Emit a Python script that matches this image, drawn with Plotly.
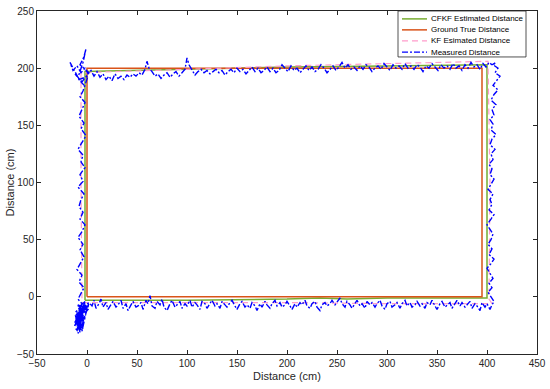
import plotly.graph_objects as go

# ---------------- data ----------------
legend_labels = ["CFKF Estimated Distance", "Ground True Distance",
                 "KF Esimated Distance", "Measured Distance"]

gt_x = [0, 395, 395, 0, 0]
gt_y = [0, 0, 200, 200, 0]

cfkf_x = [-2, 100, 200, 233, 260, 300, 400, 400, 400, 300, 200, 100, 0, -2, -2, -2]
cfkf_y = [-3, -3, -2, -1, -2, -1, -1, 100, 203, 202, 201, 199, 197, 197, 100, -3]

kf_x = [-5, 100, 200, 300, 405, 402, 403, 401, 300, 200, 100, 0, -6, -6, -5]
kf_y = [-5, -5, -5, -6, -6, -2, 100, 206, 204, 202, 199, 196, 196, 100, -5]

meas_x = [
    # start cluster
    -6, -9, -7, -10, -8, -5, -11, -7, -9, -4, -8, -10, -6, -3, -7, -12, -6, -9, -5, -8, -2,
    -11, -4, -9, 1, -13, -6, -1, -10, -3, -12, -7, 2, -9, -5, -11, -2, -8, 0, -10, -4, -7,
    # bottom edge
    2, 5, 7, 9, 12, 14, 16, 19, 21, 24, 26, 29, 31, 34, 36, 39, 41, 44, 46, 49, 51, 54, 56, 59,
    61, 63, 65, 68, 70, 73, 75, 77, 80, 83, 85, 88, 90, 93, 95, 98, 100, 103, 105, 108, 110,
    113, 115, 118, 120, 123, 125, 128, 130, 133, 135, 138, 140, 143, 145, 148, 150, 153, 155,
    158, 160, 163, 165, 168, 170, 173, 175, 178, 180, 183, 185, 188, 190, 193, 195, 198, 200,
    203, 205, 208, 210, 213, 215, 218, 220, 223, 225, 228, 230, 233, 235, 238, 240, 243, 245,
    248, 250, 253, 255, 258, 260, 263, 265, 268, 270, 273, 275, 278, 280, 283, 285, 288, 290,
    293, 295, 298, 300, 303, 305, 308, 310, 313, 315, 318, 320, 323, 325, 328, 330, 333, 335,
    338, 340, 343, 345, 348, 350, 353, 355, 358, 360, 363, 365, 368, 370, 373, 375, 378, 380,
    383, 385, 388, 390, 393, 395, 398, 400, 403, 405, 407,
    # right edge
    404, 401, 405, 402, 406, 403, 400, 404, 407, 402, 405, 401, 404, 406, 403, 400, 404, 407,
    402, 405, 403, 406, 401, 404, 407, 403, 405, 402, 406, 404, 408, 403, 405, 409, 404, 406,
    403, 407, 405, 409, 404, 407, 411, 406, 410, 413, 408, 411, 406, 409,
    # top edge
    405, 402, 399, 396, 393, 390, 387, 384, 381, 378, 375, 372, 369, 366, 363, 360, 357, 354,
    351, 348, 345, 342, 339, 336, 333, 330, 327, 324, 321, 318, 315, 312, 309, 306, 303, 300,
    297, 294, 291, 288, 285, 282, 279, 276, 273, 270, 267, 264, 261, 258, 255, 252, 249, 246,
    243, 240, 237, 234, 231, 228, 225, 222, 219, 216, 213, 210, 207, 204, 201, 198, 195, 192,
    189, 186, 183, 180, 177, 174, 171, 168, 165, 162, 159, 156, 153, 150, 147, 144, 141, 138,
    135, 132, 129, 126, 123, 120, 117, 114, 111, 108, 105, 102, 100, 98, 95, 92, 89, 86, 83,
    80, 77, 74, 71, 68, 65, 62, 60, 58, 55, 52, 49, 46, 43, 40, 37, 34, 31, 28, 25, 22, 19,
    16, 13, 10, 7, 4, 1,
    # top-left cluster and left edge
    -2, -6, -10, -14, -17, -9, -4, -1, -3, -7, 2, -5, -12, -3, -8, 1, -4, -7, -2, -5, -8, -3,
    -6, -1, -5, -9, -4, -6, -2, -7, -4, -9, -3, -6, -8, -4, -7, -2, -5, -9, -4, -7, -3, -6,
    -10, -5, -8, -3, -6, -9, -5,
    # end cluster
    -8, -11, -7, -9, -6, -10, -8, -5, -9, -12, -7, -6, -10, -3, -11, -5, 0, -9, -2, -12, -6,
    -1, -8, -4, -10, -7, -3, -9,
]
meas_y = [
    # start cluster
    -10, -18, -25, -30, -22, -15, -20, -28, -12, -8, -17, -25, -20, -6, -14, -22, -27, -32, -18, -9, -4,
    -13, -21, -7, -11, -26, -16, -9, -23, -19, -15, -31, -6, -24, -12, -29, -17, -20, -8, -16, -27, -11,
    # bottom edge
    -5, -8, -3, -10, -6, -2, -9, -5, -11, -6, -4, -9, -7, -3, -10, -6, -12, -7, -4, -9, -8, -5, -11, -3,
    -6, 1, -8, -10, -4, -7, -2, -9, -12, -6, -3, -9, -7, -4, -10, -6, -8, -3, -9, -5, -7,
    -11, -4, -6, -10, -5, -3, -8, -6, -10, -4, -7, -9, -5, -3, -8, -11, -6, -4,
    -9, -7, -10, -5, -8, -12, -6, -9, -4, -7, -10, -6, -3, -8, -5, -9, -7, -4,
    -8, -11, -6, -9, -5, -7, -3, -8, -10, -6, -4, -9, -12, -7, -5, -8, -6, -3,
    -7, -5, -1, -6, -9, -4, -7, -10, -5, -3, -8, -6, -10, -4, -7, -5, -9, -6,
    -3, -8, -11, -6, -4, -9, -7, -5, -10, -6, -3, -8, -5, -9, -7, -4, -8, -6,
    -10, -5, -7, -3, -8, -11, -6, -4, -9, -7, -5, -10, -6, -3, -8, -5, -9, -7,
    -4, -10, -6, -8, -12, -5, -9, -6, -11, -7, -4,
    # right edge
    0, 4, 8, 12, 16, 20, 25, 29, 33, 37, 42, 46, 50, 55, 59, 63, 68, 72,
    76, 81, 85, 90, 94, 98, 103, 107, 112, 116, 120, 125, 129, 133, 138, 142, 146, 151,
    155, 159, 164, 168, 172, 177, 181, 185, 189, 193, 196, 200, 203, 205,
    # top edge
    203, 205, 201, 204, 199, 203, 201, 205, 200, 203, 198, 202, 200, 204, 199, 202, 200, 203,
    198, 201, 204, 200, 202, 197, 201, 203, 199, 202, 200, 204, 199, 202, 200, 203, 198, 201,
    204, 199, 202, 200, 197, 201, 203, 199, 202, 198, 201, 199, 203, 200, 205, 201, 198, 202,
    199, 196, 200, 203, 199, 197, 201, 198, 202, 199, 196, 200, 198, 202, 197, 200, 203, 198,
    196, 200, 197, 201, 198, 196, 200, 197, 201, 198, 195, 199, 197, 200, 196, 199, 197, 194,
    198, 196, 199, 197, 195, 198, 196, 199, 197, 194, 198, 203, 209, 199, 196, 193, 197, 195, 192,
    196, 194, 191, 195, 193, 197, 200, 206, 199, 194, 196, 193, 195, 192, 194, 190, 193, 191, 195, 189, 193, 190,
    195, 192, 197, 193, 198, 195,
    # top-left cluster and left edge
    200, 196, 202, 198, 205, 192, 205, 217, 210, 203, 196, 188, 195, 185, 190, 193, 180, 175,
    170, 164, 158, 152, 147, 141, 135, 129, 124, 118, 113, 107, 101, 96, 90, 85, 79, 74, 68,
    63, 57, 52, 46, 41, 35, 30, 24, 19, 13, 8, 3, -2, -6,
    # end cluster
    -12, -19, -24, -29, -16, -21, -27, -11, -15, -24, -19, -26, -14, -8, -22, -30, -10, -18, -5,
    -25, -13, -7, -20, -28, -17, -9, -23, -15,
]

x_ticks = [-50, 0, 50, 100, 150, 200, 250, 300, 350, 400, 450]
y_ticks = [-50, 0, 50, 100, 150, 200, 250]
x_title = "Distance (cm)"
y_title = "Distance (cm)"

# ---------------- styles ----------------
C_CFKF = "#77AC30"
C_GT = "#D95319"
C_KF = "#FF9CCB"
C_MEAS = "#0000FF"
AX = "#262626"
FONT = "Liberation Sans, Arial, sans-serif"

fig = go.Figure()
fig.add_trace(go.Scatter(x=cfkf_x, y=cfkf_y, mode="lines", name=legend_labels[0],
                         line=dict(color=C_CFKF, width=1.5), showlegend=False))
fig.add_trace(go.Scatter(x=gt_x, y=gt_y, mode="lines", name=legend_labels[1],
                         line=dict(color=C_GT, width=1.5), showlegend=False))
fig.add_trace(go.Scatter(x=kf_x, y=kf_y, mode="lines", name=legend_labels[2],
                         line=dict(color=C_KF, width=1.2, dash="6px,4px"), showlegend=False))
fig.add_trace(go.Scatter(x=meas_x, y=meas_y, mode="lines", name=legend_labels[3],
                         line=dict(color=C_MEAS, width=1.4, dash="6px,2px,2px,2px"), showlegend=False))

# manual compact legend (MATLAB style)
shapes = [dict(type="rect", xref="paper", yref="paper", x0=0.722, x1=0.978, y0=0.866, y1=1.0,
               line=dict(color=AX, width=0.8), fillcolor="white", layer="above")]
leg_colors = [C_CFKF, C_GT, C_KF, C_MEAS]
leg_dash = ["solid", "solid", "6px,4px", "6px,2px,2px,2px"]
leg_w = [1.5, 1.5, 1.2, 1.2]
leg_y = [0.977, 0.945, 0.913, 0.880]
annotations = []
for lab, col, d, w, yy in zip(legend_labels, leg_colors, leg_dash, leg_w, leg_y):
    shapes.append(dict(type="line", xref="paper", yref="paper", x0=0.730, x1=0.780, y0=yy, y1=yy,
                       line=dict(color=col, width=w, dash=d), layer="above"))
    annotations.append(dict(xref="paper", yref="paper", x=0.784, y=yy, text=lab, showarrow=False,
                            xanchor="left", yanchor="middle",
                            font=dict(family=FONT, size=8, color="#000000")))

axis_common = dict(showline=True, linecolor=AX, linewidth=1, mirror="ticks",
                   ticks="inside", ticklen=4, tickcolor=AX, showgrid=False, zeroline=False,
                   tickfont=dict(family=FONT, size=10, color=AX), automargin=False,
                   ticklabeloverflow="allow")

fig.update_xaxes(range=[-50, 450], tickvals=x_ticks,
                 title=dict(text=x_title, font=dict(family=FONT, size=11, color=AX), standoff=4),
                 **axis_common)
fig.update_yaxes(range=[-50, 250], tickvals=y_ticks,
                 title=dict(text=y_title, font=dict(family=FONT, size=11, color=AX), standoff=0),
                 **axis_common)

fig.update_layout(width=550, height=389, margin=dict(l=37, r=13, t=11, b=35),
                  paper_bgcolor="white", plot_bgcolor="white",
                  shapes=shapes, annotations=annotations, showlegend=False)

# remove the default page margin so the figure sits at the window's top-left corner
fig.write_html("out.html", config={"displayModeBar": False},
               post_script="document.body.style.margin='0px';")
